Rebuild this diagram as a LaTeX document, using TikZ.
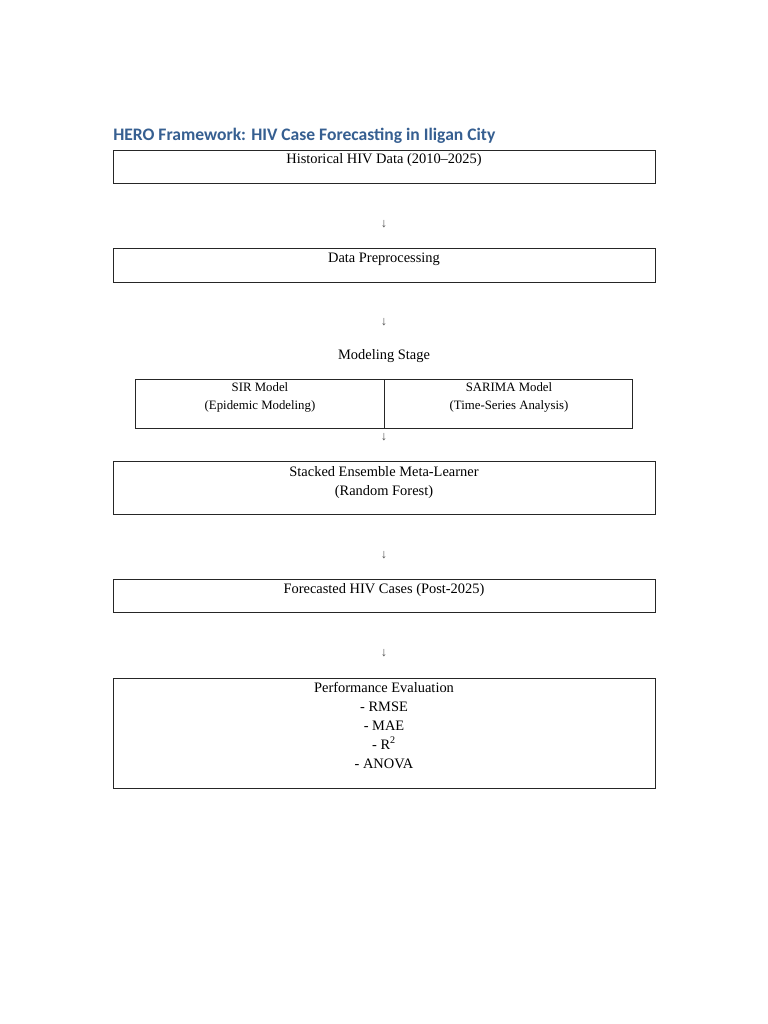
\documentclass[tikz,border=0pt]{standalone}
\usepackage{fontspec}
\setmainfont{Liberation Serif}
\newfontfamily\titlefont{Carlito}
\newfontfamily\arrfont{Liberation Serif}
\definecolor{titleblue}{RGB}{54,95,145}
\begin{document}
\begin{tikzpicture}[x=0.796875pt,y=-0.796875pt,
  box/.style={draw=black!85,line width=0.9pt,inner sep=0pt,anchor=north west},
  txt/.style={inner sep=0pt,align=center,font=\fontsize{11.5}{15.2}\selectfont},
  arr/.style={inner sep=0pt,font=\arrfont\fontsize{10}{10}\selectfont,text=black!70}]
\useasboundingbox[fill=white] (0,0) rectangle (768,1024);
\node[anchor=west,inner sep=0pt,font=\titlefont\bfseries\fontsize{14}{16}\selectfont,text=titleblue] (title) at (113,136) {HERO Framework: HIV Case Forecasting in Iligan City};
% box 1
\node[box,minimum width={542*0.796875pt},minimum height={33*0.796875pt}] (b1) at (113,150) {};
\node[txt] (t1) at (384,160) {Historical HIV Data (2010–2025)};
\node[arr] (a1) at (384,224) {↓};
% box 2
\node[box,minimum width={542*0.796875pt},minimum height={34*0.796875pt}] (b2) at (113,248) {};
\node[txt] (t2) at (384,259) {Data Preprocessing};
\node[arr] (a2) at (384,322) {↓};
\node[txt] (ms) at (384,356) {Modeling Stage};
% table
\node[box,minimum width={249*0.796875pt},minimum height={49*0.796875pt}] (sir) at (135,379) {};
\node[box,minimum width={248*0.796875pt},minimum height={49*0.796875pt}] (sar) at (384,379) {};
\node[txt,font=\fontsize{10.2}{14.5}\selectfont,anchor=north] (tsir) at (260,382) {SIR Model\\(Epidemic Modeling)};
\node[txt,font=\fontsize{10.2}{14.5}\selectfont,anchor=north] (tsar) at (509,382) {SARIMA Model\\(Time-Series Analysis)};
\node[arr] (a3) at (384,437) {↓};
% box 4
\node[box,minimum width={542*0.796875pt},minimum height={53*0.796875pt}] (b4) at (113,461) {};
\node[txt,anchor=north] (t4) at (384,466) {Stacked Ensemble Meta-Learner\\(Random Forest)};
\node[arr] (a4) at (384,555) {↓};
% box 5
\node[box,minimum width={542*0.796875pt},minimum height={33*0.796875pt}] (b5) at (113,579) {};
\node[txt] (t5) at (384,590) {Forecasted HIV Cases (Post-2025)};
\node[arr] (a5) at (384,653) {↓};
% box 6
\node[box,minimum width={542*0.796875pt},minimum height={110*0.796875pt}] (b6) at (113,678) {};
\node[txt,anchor=north,font=\fontsize{11.5}{15.1}\selectfont] (t6) at (384,682) {Performance Evaluation\\- RMSE\\- MAE\\- R\textsuperscript{2}\\- ANOVA};
\end{tikzpicture}
\end{document}
